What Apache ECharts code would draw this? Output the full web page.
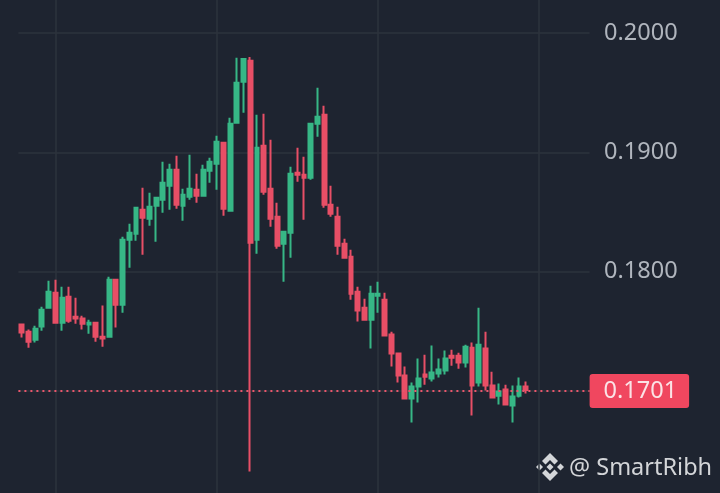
<!DOCTYPE html>
<html>
<head>
<meta charset="utf-8">
<style>html,body{margin:0;padding:0;background:#1e2430}#c{width:720px;height:493px}</style>
<script src="https://cdn.jsdelivr.net/npm/echarts@6/dist/echarts.min.js"></script>
</head>
<body>
<div id="c"></div>
<script>
const opens=[.17557,.17498,.17431,.17540,.17699,.17824,.17573,.17791,.17623,.17607,.17557,.17573,.17456,.17456,.17933,.17724,.18268,.18318,.18519,.18444,.18552,.18603,.18720,.18854,.18552,.18628,.18686,.18636,.18845,.18904,.19080,.18511,.19247,.19590,.19766,.18268,.19054,.18695,.18460,.18234,.18326,.18828,.18812,.18787,.19239,.19314,.18561,.18460,.18234,.18126,.17833,.17699,.17598,.17799,.17766,.17473,.17314,.17130,.16937,.17038,.17138,.17105,.17147,.17172,.17297,.17297,.17239,.17364,.17071,.17356,.17046,.16962,.17013,.16879,.16962,.17038];
const closes=[.17490,.17414,.17523,.17682,.17833,.17573,.17782,.17590,.17607,.17565,.17573,.17456,.17440,.17933,.17724,.18268,.18326,.18536,.18452,.18544,.18619,.18745,.18854,.18561,.18644,.18695,.18636,.18854,.18921,.19088,.18527,.19239,.19582,.19782,.18243,.19038,.18670,.18444,.18218,.18335,.18820,.18812,.18787,.19239,.19297,.18561,.18485,.18218,.18117,.17816,.17674,.17598,.17816,.17816,.17465,.17314,.17130,.16937,.17038,.17105,.17121,.17155,.17180,.17272,.17280,.17239,.17372,.17046,.17389,.17046,.16946,.16996,.16887,.16954,.17038,.17010];
const lows=[.17448,.17364,.17406,.17506,.17699,.17573,.17506,.17573,.17565,.17515,.17481,.17414,.17372,.17456,.17532,.17657,.18033,.18259,.18142,.18385,.18251,.18494,.18519,.18527,.18427,.18603,.18577,.18628,.18745,.18686,.18469,.18511,.19239,.19331,.16327,.18151,.18644,.18377,.18193,.17916,.18117,.18753,.18435,.18770,.19130,.18536,.18460,.18142,.18117,.17766,.17582,.17598,.17356,.17657,.17465,.17205,.17071,.16937,.16736,.16904,.17054,.17080,.17113,.17138,.17213,.17188,.17197,.16795,.17038,.17004,.16946,.16887,.16887,.16736,.16946,.16979];
const highs=[.17565,.17515,.17548,.17707,.17925,.17933,.17875,.17875,.17782,.17632,.17598,.17573,.17716,.17958,.17933,.18293,.18402,.18536,.18703,.18661,.18619,.18921,.18904,.18971,.18695,.18979,.18820,.18895,.18954,.19138,.19080,.19289,.19791,.19782,.19799,.19314,.19322,.19105,.18577,.18335,.18879,.19038,.18962,.19239,.19540,.19389,.18720,.18544,.18276,.18184,.17875,.17774,.17883,.17916,.17824,.17498,.17314,.17205,.17071,.17272,.17305,.17381,.17272,.17339,.17347,.17322,.17389,.17406,.17699,.17498,.17163,.17063,.17054,.17046,.17113,.17080];
const lastPrice=0.1701;
const yTicks={min:0.16,max:0.21,step:0.01};
const slotCount=85; // 76 candles plus empty room on the right
const categories=Array.from({length:slotCount},(_,i)=>String(i));

const GREEN='#37b786',RED='#e84f66',GRID='#2d333d',LABEL='#b0b5bd',MARK='#d3d5d8';
const chart=echarts.init(document.getElementById('c'),null,{renderer:'canvas'});
chart.setOption({
  animation:false,
  backgroundColor:'#1e2430',
  grid:{left:18.4,width:571.2,top:-86.5,height:597,containLabel:false,outerBoundsMode:'none'},
  xAxis:{type:'category',data:categories,boundaryGap:true,
    axisLine:{show:false},axisTick:{show:false},axisLabel:{show:false},
    splitLine:{show:true,alignWithLabel:true,interval:(i)=>i%24===5,lineStyle:{color:GRID,width:1.5}}},
  yAxis:{type:'value',position:'right',scale:false,min:yTicks.min,max:yTicks.max,interval:yTicks.step,
    axisLine:{show:false},axisTick:{show:false},
    axisLabel:{show:true,margin:14.5,color:LABEL,fontFamily:'Noto Sans',fontSize:23.5,lineHeight:27,padding:[4,0,0,0],
      formatter:(v)=>Math.abs(v-0.17)<1e-6?'':v.toFixed(4)},
    splitLine:{show:true,lineStyle:{color:GRID,width:1.5}}},
  series:[{type:'candlestick',barWidth:4.4,
    data:opens.map((o,i)=>[o,closes[i],lows[i],highs[i]]),
    itemStyle:{color:GREEN,borderColor:GREEN,color0:RED,borderColor0:RED,borderWidth:2},
    markLine:{silent:true,symbol:'none',
      lineStyle:{color:'#e8566c',type:[2,4],width:2},
      label:{show:true,position:'end',distance:0,formatter:()=>lastPrice.toFixed(4),
        backgroundColor:'#f0475f',color:'#fbe3e6',fontFamily:'Noto Sans',fontSize:23.5,
        padding:[5,12,5,14],borderRadius:3},
      data:[{yAxis:lastPrice}]}
  }],
  graphic:[
    {type:'text',left:569,top:456,style:{text:'@ SmartRibh',fill:MARK,font:'23.5px "Noto Sans"'}},
    {type:'group',x:550,y:467,children:[
      {type:'polygon',shape:{points:[[0,-14],[8,-6],[4.5,-2.5],[0,-7],[-4.5,-2.5],[-8,-6]]},style:{fill:MARK}},
      {type:'polygon',shape:{points:[[0,14],[8,6],[4.5,2.5],[0,7],[-4.5,2.5],[-8,6]]},style:{fill:MARK}},
      {type:'polygon',shape:{points:[[-14,0],[-10.5,-3.5],[-7,0],[-10.5,3.5]]},style:{fill:MARK}},
      {type:'polygon',shape:{points:[[14,0],[10.5,-3.5],[7,0],[10.5,3.5]]},style:{fill:MARK}},
      {type:'polygon',shape:{points:[[0,-3.5],[3.5,0],[0,3.5],[-3.5,0]]},style:{fill:MARK}}
    ]}
  ]
});
</script>
</body>
</html>
